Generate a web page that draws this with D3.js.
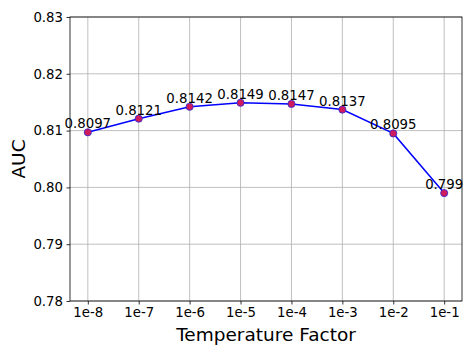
<!DOCTYPE html>
<html><head><meta charset="utf-8">
<script src="https://cdn.jsdelivr.net/npm/d3@7"></script>
<style>body{margin:0;background:#fff}svg{display:block;font-family:"DejaVu Sans",sans-serif}</style>
</head><body><svg id="c" width="474" height="355"></svg>
<script>
const categories = ["1e-8","1e-7","1e-6","1e-5","1e-4","1e-3","1e-2","1e-1"];
const aucValues = [0.8097,0.8121,0.8142,0.8149,0.8147,0.8137,0.8095,0.799];
const yTicks = [0.78,0.79,0.80,0.81,0.82,0.83];

const svg = d3.select("#c");
const L=70,R=462,T=17,B=301;
// matplotlib 5% margins: n=8 points -> xlim -0.35..7.35
const xi = d3.scaleLinear().domain([-0.35,7.35]).range([L,R]);
const xp = c => xi(categories.indexOf(c));
const y = d3.scaleLinear().domain([0.78,0.83]).range([B,T]);

// grid
svg.append("g").selectAll("line").data(categories).join("line")
  .attr("x1",d=>xp(d)).attr("x2",d=>xp(d)).attr("y1",T).attr("y2",B)
  .attr("stroke","#b0b0b0").attr("stroke-width",0.8);
svg.append("g").selectAll("line").data(yTicks).join("line")
  .attr("x1",L).attr("x2",R).attr("y1",d=>y(d)).attr("y2",d=>y(d))
  .attr("stroke","#b0b0b0").attr("stroke-width",0.8);

// axes
const xAxis = d3.axisBottom(d3.scaleOrdinal().domain(categories).range(categories.map(xp)))
  .tickSize(3.5).tickPadding(3.5);
const gx = svg.append("g").attr("transform",`translate(0,${B})`).call(xAxis);
const gy = svg.append("g").attr("transform",`translate(${L},0)`)
  .call(d3.axisLeft(y).tickValues(yTicks).tickFormat(d3.format(".2f")).tickSize(3.5).tickPadding(3.5));
[gx,gy].forEach(g=>{
  g.select(".domain").remove();
  g.selectAll("text").attr("font-size",13.3).attr("fill","#000").attr("font-family","DejaVu Sans");
  g.selectAll("line").attr("stroke","#000").attr("stroke-width",0.8);
});
svg.append("rect").attr("x",L).attr("y",T).attr("width",R-L).attr("height",B-T)
  .attr("fill","none").attr("stroke","#000").attr("stroke-width",0.8);

// line
svg.append("path").datum(aucValues)
  .attr("d",d3.line().x((d,i)=>xp(categories[i])).y(d=>y(d)))
  .attr("fill","none").attr("stroke","#0000ff").attr("stroke-width",1.5);
svg.append("g").selectAll("circle").data(aucValues).join("circle")
  .attr("cx",(d,i)=>xp(categories[i])).attr("cy",d=>y(d)).attr("r",3.6)
  .attr("fill","#d01a5e").attr("stroke","#2a2ad8").attr("stroke-width",0.8);
svg.append("g").selectAll("text").data(aucValues).join("text")
  .attr("x",(d,i)=>xp(categories[i])).attr("y",d=>y(d)-4)
  .attr("text-anchor","middle").attr("font-size",13.3).text(d=>String(d));

// titles
svg.append("text").attr("x",(L+R)/2).attr("y",341).attr("text-anchor","middle")
  .attr("font-size",18.5).text("Temperature Factor");
svg.append("text").attr("transform",`translate(25,${(T+B)/2}) rotate(-90)`)
  .attr("text-anchor","middle").attr("font-size",18.5).text("AUC");
</script></body></html>
